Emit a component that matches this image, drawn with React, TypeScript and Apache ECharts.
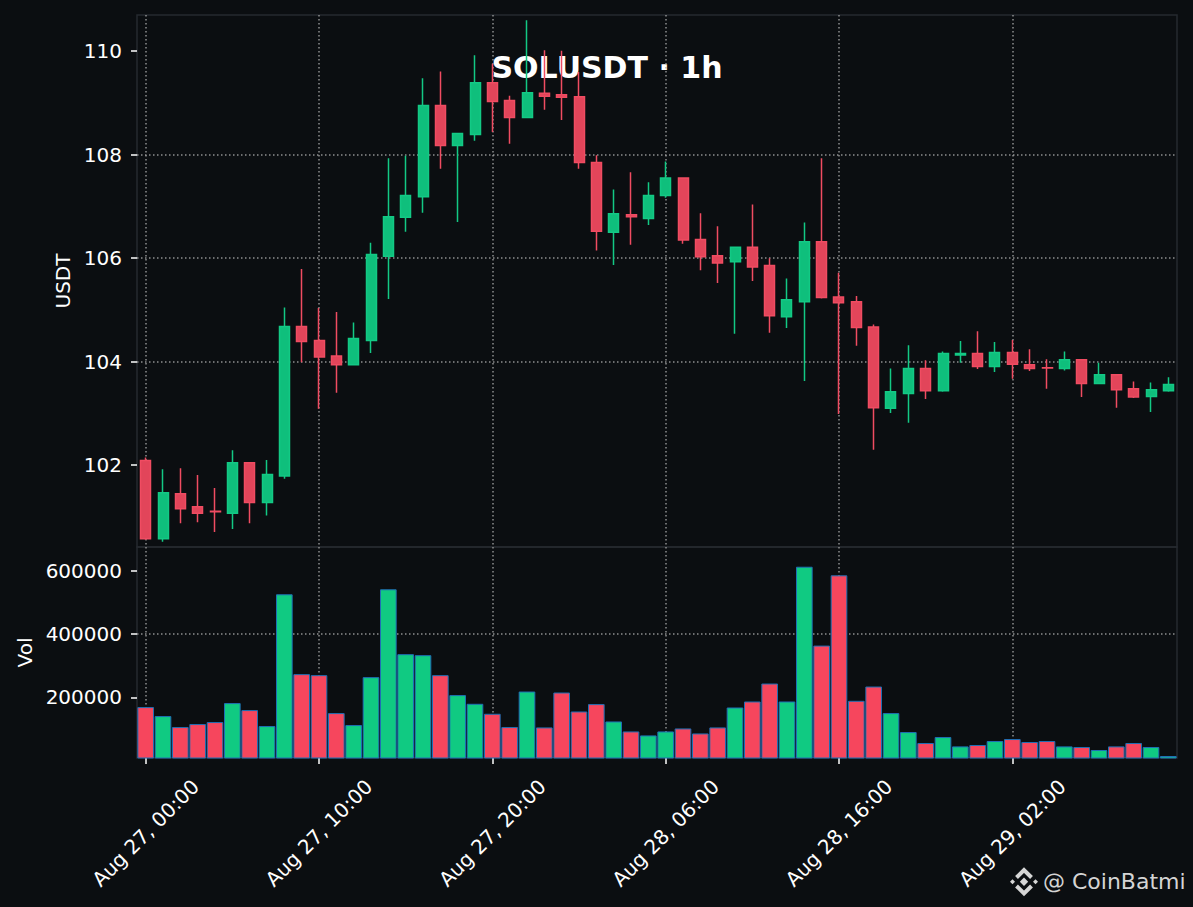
import React, { useEffect, useRef } from "react";
import * as echarts from "echarts";

const categories = [
  "Aug 27, 00:00", "Aug 27, 01:00", "Aug 27, 02:00", "Aug 27, 03:00", "Aug 27, 04:00", "Aug 27, 05:00",
  "Aug 27, 06:00", "Aug 27, 07:00", "Aug 27, 08:00", "Aug 27, 09:00", "Aug 27, 10:00", "Aug 27, 11:00",
  "Aug 27, 12:00", "Aug 27, 13:00", "Aug 27, 14:00", "Aug 27, 15:00", "Aug 27, 16:00", "Aug 27, 17:00",
  "Aug 27, 18:00", "Aug 27, 19:00", "Aug 27, 20:00", "Aug 27, 21:00", "Aug 27, 22:00", "Aug 27, 23:00",
  "Aug 28, 00:00", "Aug 28, 01:00", "Aug 28, 02:00", "Aug 28, 03:00", "Aug 28, 04:00", "Aug 28, 05:00",
  "Aug 28, 06:00", "Aug 28, 07:00", "Aug 28, 08:00", "Aug 28, 09:00", "Aug 28, 10:00", "Aug 28, 11:00",
  "Aug 28, 12:00", "Aug 28, 13:00", "Aug 28, 14:00", "Aug 28, 15:00", "Aug 28, 16:00", "Aug 28, 17:00",
  "Aug 28, 18:00", "Aug 28, 19:00", "Aug 28, 20:00", "Aug 28, 21:00", "Aug 28, 22:00", "Aug 28, 23:00",
  "Aug 29, 00:00", "Aug 29, 01:00", "Aug 29, 02:00", "Aug 29, 03:00", "Aug 29, 04:00", "Aug 29, 05:00",
  "Aug 29, 06:00", "Aug 29, 07:00", "Aug 29, 08:00", "Aug 29, 09:00", "Aug 29, 10:00", "Aug 29, 11:00",
];

const opens = [
  102.09, 100.58, 101.45, 101.2, 101.11, 101.07, 102.05, 101.28, 101.79, 104.68,
  104.41, 104.11, 103.94, 104.41, 106.04, 106.79, 107.19, 108.95, 108.18, 108.39,
  109.39, 109.05, 108.72, 109.19, 109.16, 109.12, 107.85, 106.5, 106.84, 106.77,
  107.21, 107.55, 106.36, 106.05, 105.93, 106.21, 105.86, 104.87, 105.16, 106.32,
  105.25, 105.16, 104.67, 103.1, 103.385, 103.87, 103.44, 104.13, 104.16, 103.91,
  104.18, 103.94, 103.885, 103.87, 104.04, 103.58, 103.75, 103.48, 103.33, 103.44,
];
const closes = [
  100.58, 101.47, 101.16, 101.07, 101.1, 102.05, 101.28, 101.82, 104.68, 104.39,
  104.09, 103.94, 104.45, 106.07, 106.8, 107.21, 108.95, 108.18, 108.41, 109.39,
  109.03, 108.72, 109.2, 109.13, 109.11, 107.85, 106.52, 106.86, 106.8, 107.21,
  107.55, 106.35, 106.03, 105.91, 106.21, 105.83, 104.89, 105.2, 106.32, 105.24,
  105.14, 104.66, 103.11, 103.42, 103.87, 103.44, 104.16, 104.16, 103.91, 104.18,
  103.95, 103.87, 103.88, 104.04, 103.58, 103.75, 103.46, 103.32, 103.46, 103.56,
];
const lows = [
  100.56, 100.52, 100.88, 100.9, 100.71, 100.77, 100.88, 101.03, 101.74, 103.99,
  103.09, 103.4, 103.94, 104.17, 105.21, 106.51, 106.88, 107.73, 106.7, 108.27,
  108.44, 108.21, 108.72, 108.87, 108.67, 107.73, 106.15, 105.87, 106.26, 106.64,
  107.17, 106.28, 105.77, 105.52, 104.54, 105.56, 104.56, 104.65, 103.63, 105.22,
  102.99, 104.31, 102.3, 103.01, 102.82, 103.28, 103.42, 103.98, 103.86, 103.8,
  103.67, 103.82, 103.48, 103.83, 103.32, 103.58, 103.11, 103.3, 103.03, 103.42,
];
const highs = [
  102.15, 101.92, 101.94, 101.81, 101.56, 102.29, 102.06, 102.1, 105.05, 105.79,
  105.04, 104.96, 104.76, 106.3, 107.93, 107.98, 109.48, 109.61, 108.41, 109.92,
  109.76, 109.14, 110.6, 110.02, 110.01, 109.6, 107.99, 107.33, 107.66, 107.47,
  107.87, 107.56, 106.87, 106.62, 106.22, 107.04, 106.0, 105.61, 106.69, 107.93,
  105.72, 105.27, 104.72, 103.87, 104.32, 104.03, 104.2, 104.4, 104.59, 104.38,
  104.42, 104.24, 104.05, 104.2, 104.04, 103.98, 103.75, 103.62, 103.6, 103.7,
];
const volumes = [
  169600, 141200, 106400, 115900, 122200, 182200, 160100, 109600, 526400, 273800,
  270600, 150600, 112700, 264300, 542200, 337000, 333800, 270600, 207500, 180000,
  148400, 106400, 218800, 105200, 215700, 155700, 179000, 124100, 92500, 79900,
  92500, 102000, 86200, 105200, 168300, 187300, 244100, 187300, 613600, 364100,
  586400, 189500, 234600, 150600, 90600, 55900, 74800, 45200, 49600, 62200,
  68500, 59100, 62200, 45200, 43300, 33800, 45200, 55900, 43300, 14800,
];

const priceTicks = [102, 104, 106, 108, 110];
const volumeTicks = [200000, 400000, 600000];

const FONT = '"DejaVu Sans", "Noto Sans", sans-serif';
const BG = "#0b0e11";
const BORDER = "#262a2f";
const GRID_LINE = { color: "rgba(165,165,165,0.85)", width: 1.5, type: [1.5, 2.5] as any };
const UP_FILL = "#0fbf7c";
const UP_EDGE = "#13c985";
const DOWN_FILL = "#e2455a";
const DOWN_EDGE = "#f04c62";
const VOL_UP = "#10ca82";
const VOL_DOWN = "#f6465d";
const VOL_EDGE = "#1f6fb5";

const W = 1193;
const H = 907;
const PLOT_LEFT = 137;
const PLOT_RIGHT = 16;
const PRICE_TOP = 15;
const PRICE_H = 532;
const VOL_H = 211;

export default function App() {
  const ref = useRef<HTMLDivElement>(null);

  useEffect(() => {
    if (!ref.current) return;
    const chart = echarts.init(ref.current, null, { renderer: "svg" });
    const band = (W - PLOT_LEFT - PLOT_RIGHT) / categories.length;

    const candleData = categories.map((_, i) => [opens[i], closes[i], lows[i], highs[i]]);
    const volData = volumes.map((v, i) => ({
      value: v,
      itemStyle: { color: closes[i] >= opens[i] ? VOL_UP : VOL_DOWN },
    }));

    const option: any = {
      animation: false,
      backgroundColor: BG,
      textStyle: { fontFamily: FONT },
      grid: [
        { left: PLOT_LEFT, right: PLOT_RIGHT, top: PRICE_TOP, height: PRICE_H, show: true, borderColor: BORDER, borderWidth: 1.5, backgroundColor: "transparent" },
        { left: PLOT_LEFT, right: PLOT_RIGHT, top: PRICE_TOP + PRICE_H, height: VOL_H, show: true, borderColor: BORDER, borderWidth: 1.5, backgroundColor: "transparent" },
        { left: PLOT_LEFT + band / 2, right: PLOT_RIGHT + band / 2, top: PRICE_TOP, height: PRICE_H + VOL_H, show: false },
      ],
      xAxis: [
        {
          type: "category", gridIndex: 0, data: categories,
          axisLine: { show: false }, axisTick: { show: false }, axisLabel: { show: false }, splitLine: { show: false },
        },
        {
          type: "category", gridIndex: 1, data: categories,
          axisLine: { show: false },
          axisTick: { show: true, alignWithLabel: true, interval: 9, length: 6, lineStyle: { color: "#ffffff", width: 1.5 } },
          axisLabel: {
            interval: 9, rotate: 45, align: "center", verticalAlign: "middle", margin: 75,
            color: "#ffffff", fontSize: 20, fontFamily: FONT,
          },
          splitLine: { show: false },
        },
        {
          type: "value", gridIndex: 2, min: 0, max: categories.length - 1, interval: 10,
          axisLine: { show: false }, axisTick: { show: false }, axisLabel: { show: false },
          splitLine: { show: true, showMinLine: true, showMaxLine: false, lineStyle: GRID_LINE },
        },
      ],
      yAxis: [
        {
          type: "value", gridIndex: 0, min: 100.42, max: 110.7,
          name: "USDT", nameLocation: "middle", nameGap: 64,
          nameTextStyle: { color: "#ffffff", fontSize: 20, fontFamily: FONT },
          axisLine: { show: false },
          axisTick: { show: true, length: 6, customValues: priceTicks, lineStyle: { color: "#ffffff", width: 1.5 } },
          axisLabel: { customValues: priceTicks, color: "#ffffff", fontSize: 20, margin: 15, fontFamily: FONT, formatter: (v: number) => String(v) },
          splitLine: { show: true, showMinLine: false, showMaxLine: false, lineStyle: GRID_LINE },
        },
        {
          type: "value", gridIndex: 1, min: 8500, max: 676000, splitNumber: 3,
          name: "Vol", nameLocation: "middle", nameGap: 102,
          nameTextStyle: { color: "#ffffff", fontSize: 20, fontFamily: FONT },
          axisLine: { show: false },
          axisTick: { show: true, length: 6, customValues: volumeTicks, lineStyle: { color: "#ffffff", width: 1.5 } },
          axisLabel: { customValues: volumeTicks, color: "#ffffff", fontSize: 20, margin: 15, fontFamily: FONT, formatter: (v: number) => String(v) },
          splitLine: { show: true, showMinLine: false, showMaxLine: false, lineStyle: GRID_LINE },
        },
        {
          type: "value", gridIndex: 2, min: 0, max: 1, show: false,
        },
      ],
      series: [
        {
          type: "candlestick", name: "SOLUSDT",
          xAxisIndex: 0, yAxisIndex: 0,
          data: candleData,
          barWidth: 10.5,
          itemStyle: {
            color: UP_FILL, color0: DOWN_FILL,
            borderColor: UP_EDGE, borderColor0: DOWN_EDGE,
            borderWidth: 1.5,
          },
        },
        {
          type: "bar", name: "Vol",
          xAxisIndex: 1, yAxisIndex: 1,
          data: volData,
          barCategoryGap: "4%",
          itemStyle: { borderColor: VOL_EDGE, borderWidth: 1 },
        },
      ],
      graphic: [
        {
          type: "text", x: 607, y: 67, silent: true,
          style: { text: "SOLUSDT · 1h", fill: "#ffffff", font: `bold 30px ${FONT}`, align: "center", verticalAlign: "middle" },
        },
        {
          type: "group", silent: true,
          children: [
            { type: "polyline", shape: { points: [[1016.5, 877.5], [1024, 870], [1031.5, 877.5]] }, style: { stroke: "#d6d6d6", lineWidth: 4, fill: "none" } },
            { type: "polyline", shape: { points: [[1016.5, 886], [1024, 893.5], [1031.5, 886]] }, style: { stroke: "#d6d6d6", lineWidth: 4, fill: "none" } },
            { type: "polygon", shape: { points: [[1024, 877.5], [1028.2, 881.7], [1024, 886], [1019.8, 881.7]] }, style: { fill: "#d6d6d6" } },
            { type: "polygon", shape: { points: [[1012.5, 879.2], [1015, 881.7], [1012.5, 884.2], [1010, 881.7]] }, style: { fill: "#d6d6d6" } },
            { type: "polygon", shape: { points: [[1035.5, 879.2], [1038, 881.7], [1035.5, 884.2], [1033, 881.7]] }, style: { fill: "#d6d6d6" } },
            {
              type: "text", x: 1043, y: 881,
              style: { text: "@ CoinBatmi", fill: "#d4d4d4", font: `22px ${FONT}`, align: "left", verticalAlign: "middle" },
            },
          ],
        },
      ],
    };

    chart.setOption(option);
    return () => chart.dispose();
  }, []);

  return (
    <div
      ref={ref}
      style={{ position: "fixed", left: 0, top: 0, width: W, height: H, background: BG }}
    />
  );
}
